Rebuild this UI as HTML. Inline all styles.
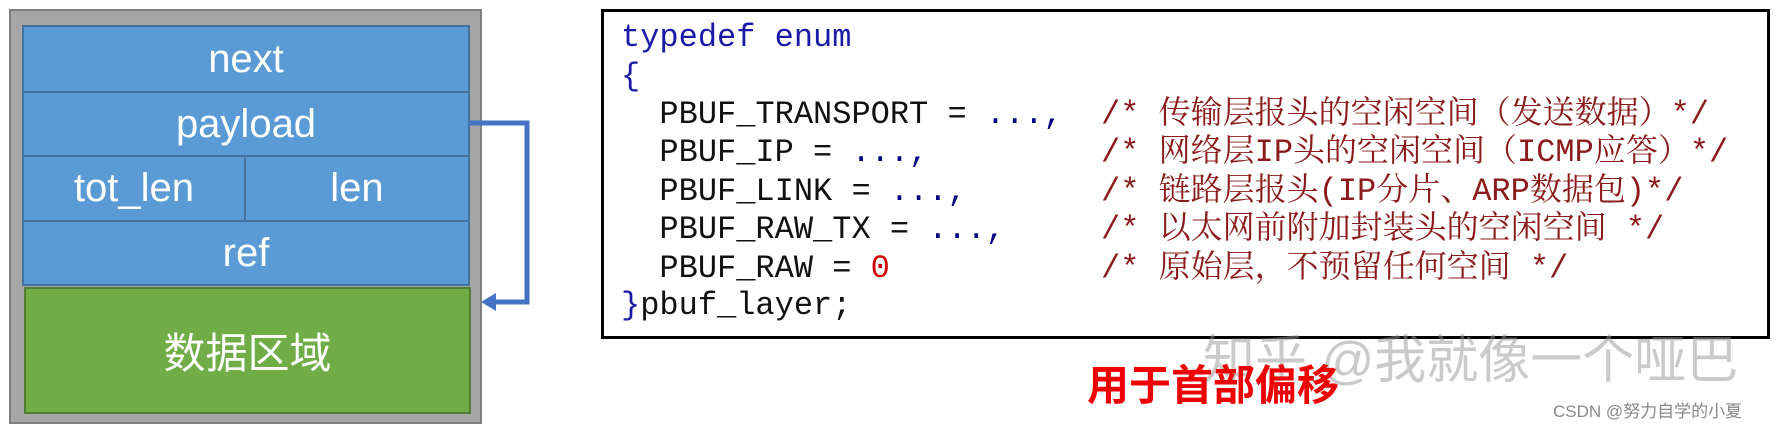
<!DOCTYPE html>
<html><head><meta charset="utf-8"><style>
body{margin:0;width:1777px;height:428px;background:#fff;position:relative;overflow:hidden;font-family:"Liberation Sans","Noto Sans CJK SC",sans-serif}
.a{position:absolute}
.cell{position:absolute;background:#5b9bd5;border:2px solid #41719c;box-sizing:border-box;color:#fff;font-size:40px;display:flex;align-items:center;justify-content:center}
.code{position:absolute;left:621px;font-family:"Liberation Mono","Noto Sans CJK SC",monospace;font-size:32px;white-space:pre;line-height:1;color:#111}
.cm{position:absolute;left:1101px;font-family:"Liberation Mono","Noto Serif CJK SC",monospace;font-size:32px;white-space:pre;color:#8b1a1a;line-height:1}
</style></head><body>
<div class="a" style="left:9px;top:9px;width:473px;height:415px;background:#a6a6a6;border:2px solid #7f7f7f;box-sizing:border-box"></div>
<div class="cell" style="left:22px;top:25px;width:448px;height:68px">next</div>
<div class="cell" style="left:22px;top:91px;width:448px;height:66px">payload</div>
<div class="cell" style="left:22px;top:155px;width:224px;height:67px">tot_len</div>
<div class="cell" style="left:244px;top:155px;width:226px;height:67px">len</div>
<div class="cell" style="left:22px;top:220px;width:448px;height:66px">ref</div>
<div class="cell" style="left:24px;top:287px;width:447px;height:127px;background:#70ad47;border-color:#507e32;font-size:42px">数据区域</div>
<svg class="a" style="left:0;top:0" width="600" height="428">
<polyline points="469,123 527,123 527,302 492,302" fill="none" stroke="#4472c4" stroke-width="5"/>
<polygon points="481,302 496,293 496,311" fill="#4472c4"/>
</svg>
<div class="a" style="left:601px;top:9px;width:1169px;height:330px;border:3px solid #000;box-sizing:border-box"></div>
<div class="code" style="top:22px;color:#1a1aa6">typedef enum</div>
<div class="code" style="top:61px;color:#1a1aa6">{</div>
<div class="code" style="top:99px">  PBUF_TRANSPORT = <span style="color:#000080">...,</span></div>
<div class="code" style="top:137px">  PBUF_IP = <span style="color:#000080">...,</span></div>
<div class="code" style="top:176px">  PBUF_LINK = <span style="color:#000080">...,</span></div>
<div class="code" style="top:214px">  PBUF_RAW_TX = <span style="color:#000080">...,</span></div>
<div class="code" style="top:253px">  PBUF_RAW = <span style="color:#c00">0</span></div>
<div class="code" style="top:290px"><span style="color:#1a1aa6">}</span>pbuf_layer;</div>
<div class="cm" style="top:99px">/* 传输层报头的空闲空间（发送数据）*/</div>
<div class="cm" style="top:137px">/* 网络层IP头的空闲空间（ICMP应答）*/</div>
<div class="cm" style="top:176px">/* 链路层报头(IP分片、ARP数据包)*/</div>
<div class="cm" style="top:214px">/* 以太网前附加封装头的空闲空间 */</div>
<div class="cm" style="top:253px">/* 原始层，不预留任何空间 */</div>
<div class="a" style="left:1203px;top:318px;font-size:52px;color:rgba(150,150,150,0.5);white-space:nowrap">知乎 @我就像一个哑巴</div>
<div class="a" style="left:1087px;top:352px;font-size:42px;font-weight:bold;color:#e00;white-space:nowrap">用于首部偏移</div>
<div class="a" style="left:1553px;top:397px;font-size:17px;color:#888;white-space:nowrap">CSDN @努力自学的小夏</div>
</body></html>
